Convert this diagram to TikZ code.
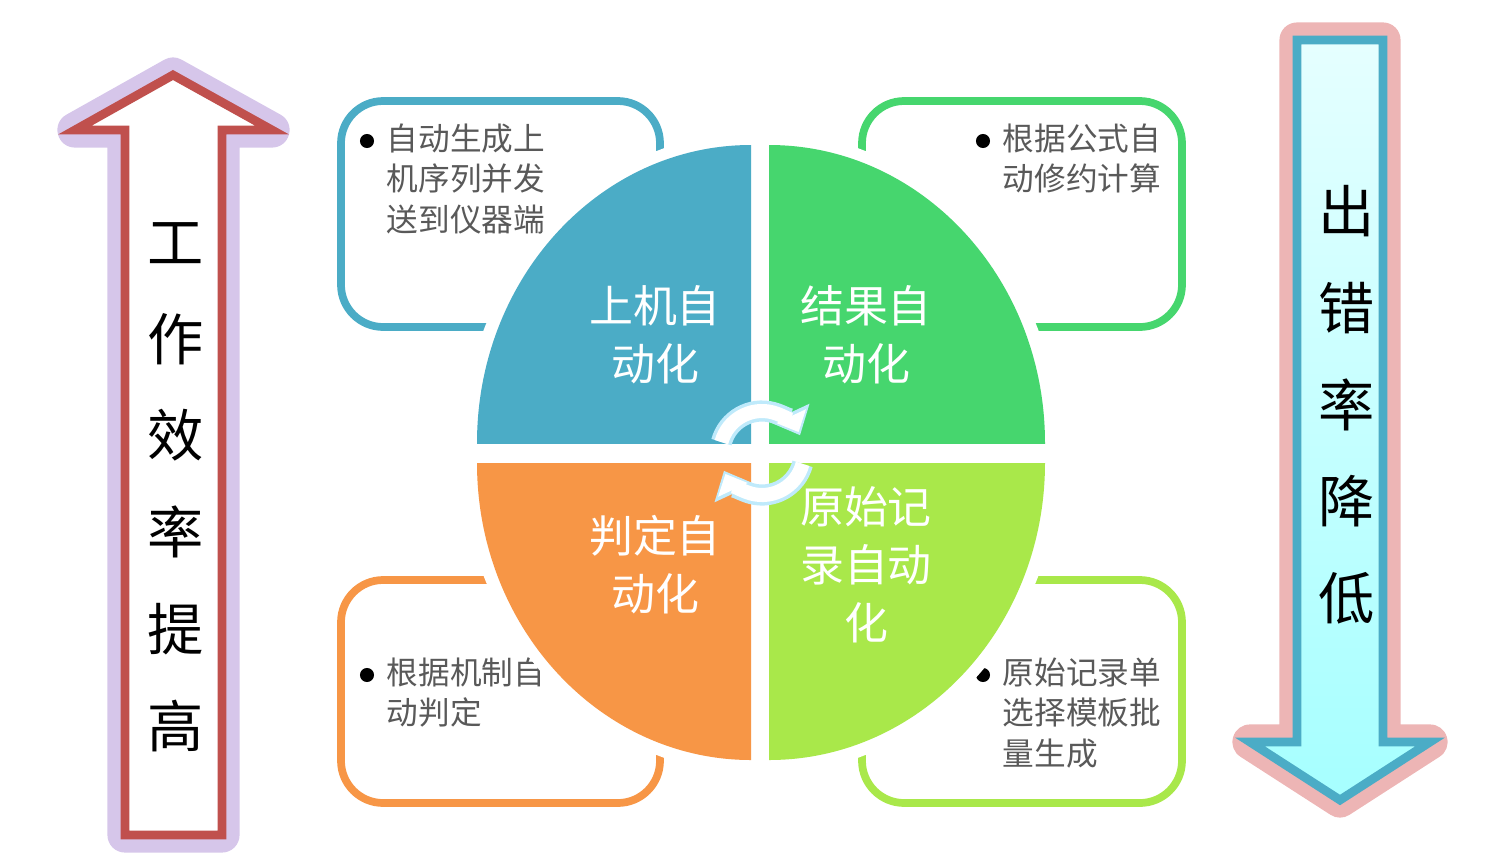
\documentclass[tikz,border=0pt]{standalone}
\usepackage{fontspec}
\setmainfont{Noto Sans CJK SC}
\usetikzlibrary{arrows.meta,calc}
\definecolor{qblue}{HTML}{4BACC6}
\definecolor{qgreen}{HTML}{46D66E}
\definecolor{qorange}{HTML}{F79646}
\definecolor{qlime}{HTML}{A9E84A}
\definecolor{glowpurple}{HTML}{D6C6EA}
\definecolor{glowred}{HTML}{EDB5B5}
\definecolor{arrowred}{HTML}{C0504D}
\definecolor{arrowblue}{HTML}{4BACC6}
\tikzset{
  infobox/.style={draw, line width=2.2pt, rounded corners=12pt},
  infotext/.style={text=gray!70!black, font=\fontsize{9}{11.5}\selectfont, align=left, anchor=north west, inner sep=0pt},
  bulletdot/.style={circle, fill=black, inner sep=0pt, minimum size=4pt},
  quadtext/.style={text=white, font=\fontsize{12.5}{16.5}\selectfont, align=center},
  bigtext/.style={font=\fontsize{16}{27.5}\selectfont, align=center},
}
\begin{document}
\begin{tikzpicture}[x=0.01cm,y=-0.01cm]
  \useasboundingbox (0,0) rectangle (1493,863);

  % Up arrow
  \draw[glowpurple, line width=10pt, line join=round]
    (125,835) -- (125,130) -- (75,130) -- (173,75) -- (272,130) -- (222,130) -- (222,835) -- cycle;
  \draw[arrowred, fill=white, line width=2.5pt]
    (125,835) -- (125,130) -- (75,130) -- (173,75) -- (272,130) -- (222,130) -- (222,835) -- cycle;
  \node[bigtext] (up) at (176,487) {工\\作\\效\\率\\提\\高};

  % Down arrow
  \draw[glowred, line width=10pt, line join=round]
    (1297,40) -- (1383,40) -- (1383,742) -- (1430,742) -- (1340,800) -- (1250,742) -- (1297,742) -- cycle;
  \draw[arrowblue, top color=cyan!10, bottom color=cyan!35, line width=2.5pt]
    (1297,40) -- (1383,40) -- (1383,742) -- (1430,742) -- (1340,800) -- (1250,742) -- (1297,742) -- cycle;
  \node[bigtext] (down) at (1347,405) {出\\错\\率\\降\\低};

  % Boxes
  \draw[infobox, qblue] (341,101) rectangle (660,327);
  \draw[infobox, qgreen] (862,101) rectangle (1182,327);
  \draw[infobox, qorange] (341,580) rectangle (660,803);
  \draw[infobox, qlime] (862,580) rectangle (1182,803);
  \node[bulletdot] (b1) at (367,141) {};
  \node[bulletdot] (b2) at (983,141) {};
  \node[bulletdot] (b3) at (367,675) {};
  \node[bulletdot] (b4) at (983,675) {};
  \node[infotext] (t1) at (386,123) {自动生成上\\机序列并发\\送到仪器端};
  \node[infotext] (t2) at (1002,123) {根据公式自\\动修约计算};
  \node[infotext] (t3) at (386,657) {根据机制自\\动判定};
  \node[infotext] (t4) at (1002,657) {原始记录单\\选择模板批\\量生成};

  % Quadrants
  \fill[white] (761,453) ellipse [x radius=300, y radius=322];
  \begin{scope}
    \clip (477,145) rectangle (751,443);
    \fill[qblue] (751,443) ellipse [x radius=274, y radius=298];
  \end{scope}
  \begin{scope}
    \clip (769,145) rectangle (1045,443);
    \fill[qgreen] (769,443) ellipse [x radius=276, y radius=298];
  \end{scope}
  \begin{scope}
    \clip (477,463) rectangle (751,760);
    \fill[qorange] (751,463) ellipse [x radius=274, y radius=297];
  \end{scope}
  \begin{scope}
    \clip (769,463) rectangle (1045,760);
    \fill[qlime] (769,463) ellipse [x radius=276, y radius=297];
  \end{scope}
  \node[quadtext] (q1) at (655,335) {上机自\\动化};
  \node[quadtext] (q2) at (866,335) {结果自\\动化};
  \node[quadtext] (q3) at (655,565) {判定自\\动化};
  \node[quadtext] (q4) at (866,565) {原始记\\录自动\\化};

  % Cycle arrows
  \coordinate (c) at (762,453);
  \foreach \a/\b in {195/335, 15/155}
    \draw[cyan!25, line width=6pt, -{Triangle[length=7pt,width=12pt]}]
      ($(c)+(\a:42)$) arc[start angle=\a, end angle=\b, radius=42];
  \foreach \a/\b in {195/335, 15/155}
    \draw[white, line width=4pt, -{Triangle[length=5pt,width=9pt]}, shorten >=1pt]
      ($(c)+(\a:42)$) arc[start angle=\a, end angle=\b, radius=42];
\end{tikzpicture}
\end{document}
